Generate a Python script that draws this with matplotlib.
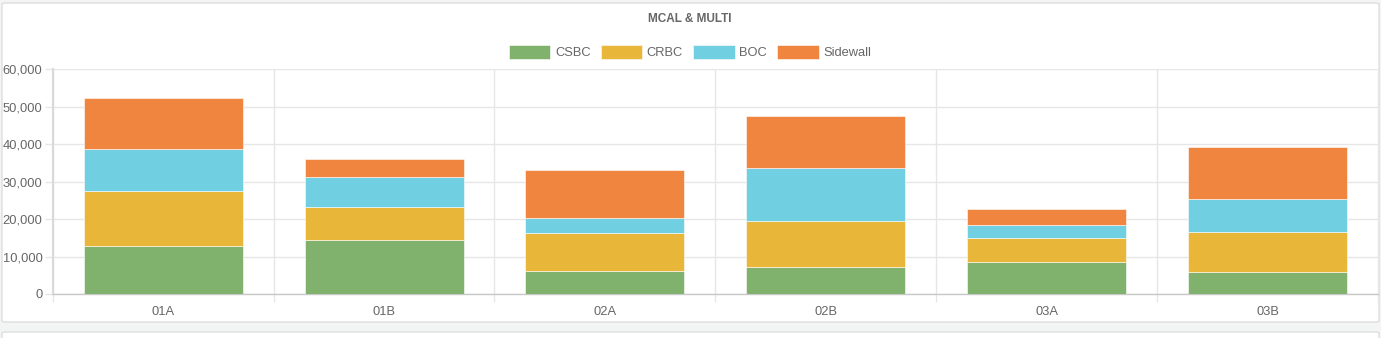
import matplotlib.pyplot as plt
from matplotlib.patches import FancyBboxPatch
from matplotlib.ticker import FuncFormatter, MultipleLocator
import numpy as np

# values
categories = ["01A", "01B", "02A", "02B", "03A", "03B"]
csbc = [12800, 14500, 6100, 7300, 8600, 6000]
crbc = [14600, 8800, 10200, 12300, 6300, 10500]
boc = [11200, 7900, 4100, 14000, 3400, 9000]
sidewall = [13800, 4800, 12600, 13800, 4300, 13800]

series = [
    ("CSBC", csbc, "#80b26d"),
    ("CRBC", crbc, "#e8b739"),
    ("BOC", boc, "#70cfe0"),
    ("Sidewall", sidewall, "#ef853e"),
]

plt.rcParams["font.family"] = ["Liberation Sans", "DejaVu Sans"]
TEXT = "#666666"
GRID = "#e6e6e6"

W, H = 1381, 338
fig = plt.figure(figsize=(W / 100, H / 100), dpi=100)
fig.patch.set_facecolor("#f3f4f4")

# white card behind the chart, plus the top of the next card
for y0, h in [(16, 319), (-20, 26)]:
    card = FancyBboxPatch((2 / W, y0 / H), 1377 / W, h / H,
                          boxstyle="round,pad=0,rounding_size=0.003",
                          transform=fig.transFigure, facecolor="white",
                          edgecolor="#dedede", linewidth=1, zorder=-10)
    fig.patches.append(card)

ax = fig.add_axes([52.7 / W, 44 / H, (1378 - 52.7) / W, (294 - 69.3) / H])
ax.set_facecolor("none")

x = np.arange(len(categories))
bottom = np.zeros(len(categories))
for name, vals, color in series:
    ax.bar(x, vals, width=0.72, bottom=bottom, color=color, label=name,
           edgecolor="white", linewidth=0.4, zorder=3)
    bottom += np.array(vals)

ax.set_xlim(-0.5, len(categories) - 0.5)
ax.set_ylim(0, 60000)
ax.yaxis.set_major_locator(MultipleLocator(10000))
ax.yaxis.set_major_formatter(FuncFormatter(lambda v, p: f"{int(v):,}"))

ax.set_xticks(x)
ax.set_xticklabels(categories)
ax.set_xticks(np.arange(len(categories) + 1) - 0.5, minor=True)

# tick lengths are in points: 5.8pt is about 8px at 100 dpi
ax.tick_params(axis="x", which="major", length=0, pad=8.5, labelsize=9.3, labelcolor=TEXT)
ax.tick_params(axis="x", which="minor", length=5.8, color=GRID, width=1)
ax.tick_params(axis="y", which="major", length=5.8, color=GRID, width=1,
               pad=1.5, labelsize=9.3, labelcolor=TEXT)

ax.grid(True, axis="y", color=GRID, linewidth=1, zorder=0)
ax.grid(True, axis="x", which="minor", color=GRID, linewidth=1, zorder=0)
ax.grid(False, axis="x", which="major")
ax.set_axisbelow(True)

for side in ["top", "right"]:
    ax.spines[side].set_visible(False)
ax.spines["left"].set_color("#d9d9d9")
ax.spines["left"].set_linewidth(1.5)
ax.spines["bottom"].set_color("#c8c8c8")
ax.spines["bottom"].set_linewidth(1)

fig.text(690 / W, 1 - 19 / H, "MCAL & MULTI", ha="center", va="center",
         fontsize=8.5, fontweight="bold", color=TEXT)

fig.legend(loc="center", bbox_to_anchor=(690 / W, 1 - 52 / H), ncol=4,
           frameon=False, fontsize=9.3, labelcolor=TEXT,
           handlelength=3.2, handleheight=1.4, handletextpad=0.35,
           columnspacing=0.8, borderpad=0)

fig.savefig("out.png", dpi=100, facecolor=fig.get_facecolor())
